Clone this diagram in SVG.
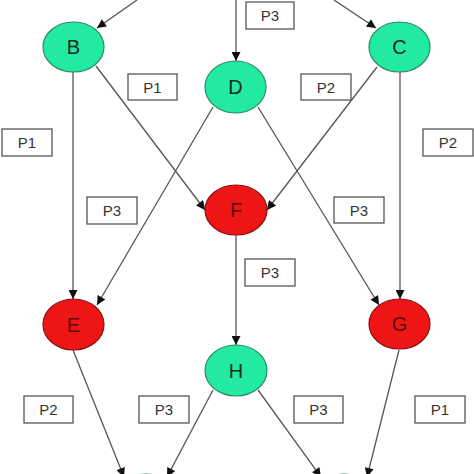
<svg xmlns="http://www.w3.org/2000/svg" width="474" height="474" viewBox="0 0 474 474">
<style>
.g{fill:#22eaa0;stroke:#2a8a66;stroke-width:1.2}
.r{fill:#ee1515;stroke:#8a1010;stroke-width:1.2}
.nt{font-family:"Liberation Sans",Arial,sans-serif;font-size:20px;text-anchor:middle;dominant-baseline:central}
.gt{fill:#1a2a22}
.rt{fill:#5a0a0a}
.e{stroke:#555;stroke-width:1.3;fill:none;marker-end:url(#a)}
.lb rect{fill:#fff;stroke:#555;stroke-width:1.3}
.lb text{font-family:"Liberation Sans",Arial,sans-serif;font-size:15px;fill:#333;text-anchor:middle;dominant-baseline:central}
</style>
<defs>
<marker id="a" viewBox="0 0 10 10" refX="10" refY="5" markerWidth="10" markerHeight="9" markerUnits="userSpaceOnUse" orient="auto">
<path d="M0,0 L10,5 L0,10 z" fill="#111"/>
</marker>
</defs>
<rect width="474" height="474" fill="#fff"/>
<g id="connectors">
<line class="e" x1="137" y1="0" x2="97" y2="28"/>
<line class="e" x1="236" y1="0" x2="236" y2="61"/>
<line class="e" x1="334" y1="0" x2="376" y2="28"/>
<line class="e" x1="73" y1="72" x2="73" y2="299"/>
<line class="e" x1="96" y1="66" x2="205" y2="210"/>
<line class="e" x1="213" y1="107" x2="97" y2="305"/>
<line class="e" x1="258" y1="107" x2="379" y2="305"/>
<line class="e" x1="377" y1="67" x2="267" y2="210"/>
<line class="e" x1="400" y1="72" x2="400" y2="299"/>
<line class="e" x1="236" y1="235" x2="236" y2="345"/>
<line class="e" x1="73" y1="350" x2="124" y2="477"/>
<line class="e" x1="213" y1="390" x2="167" y2="477"/>
<line class="e" x1="258" y1="390" x2="321" y2="477"/>
<line class="e" x1="399" y1="350" x2="367" y2="477"/>
</g>
<g id="node-B"><ellipse class="g" cx="73.5" cy="47" rx="30.5" ry="25"/><text class="nt gt" x="73.5" y="47">B</text></g>
<g id="node-D"><ellipse class="g" cx="235.5" cy="87" rx="30.5" ry="26"/><text class="nt gt" x="235.5" y="87">D</text></g>
<g id="node-C"><ellipse class="g" cx="399.5" cy="47" rx="30.5" ry="25"/><text class="nt gt" x="399.5" y="47">C</text></g>
<g id="node-F"><ellipse class="r" cx="236" cy="210" rx="31" ry="25"/><text class="nt rt" x="236" y="210">F</text></g>
<g id="node-E"><ellipse class="r" cx="73.5" cy="324.5" rx="30.5" ry="25.5"/><text class="nt rt" x="73.5" y="324.5">E</text></g>
<g id="node-G"><ellipse class="r" cx="399.5" cy="324" rx="30.5" ry="25"/><text class="nt rt" x="399.5" y="324">G</text></g>
<g id="node-H"><ellipse class="g" cx="236" cy="370.5" rx="31" ry="25.5"/><text class="nt gt" x="236" y="370.5">H</text></g>
<g id="node-bl"><ellipse class="g" cx="146" cy="499" rx="30" ry="25"/></g>
<g id="node-br"><ellipse class="g" cx="344" cy="499" rx="30" ry="25"/></g>
<g id="labels" class="lb">
<g id="lb1"><rect x="246" y="2" width="48" height="27"/><text x="270" y="15.5">P3</text></g>
<g id="lb2"><rect x="128" y="74" width="49" height="26"/><text x="152.5" y="87">P1</text></g>
<g id="lb3"><rect x="2" y="129" width="50" height="27"/><text x="27" y="142.5">P1</text></g>
<g id="lb4"><rect x="87" y="197" width="50" height="27"/><text x="112" y="210.5">P3</text></g>
<g id="lb5"><rect x="301" y="74" width="50" height="26"/><text x="326" y="87">P2</text></g>
<g id="lb6"><rect x="423" y="129" width="50" height="27"/><text x="448" y="142.5">P2</text></g>
<g id="lb7"><rect x="334" y="197" width="50" height="26"/><text x="359" y="210">P3</text></g>
<g id="lb8"><rect x="245" y="259" width="50" height="27"/><text x="270" y="272.5">P3</text></g>
<g id="lb9"><rect x="24" y="396" width="49" height="27"/><text x="48.5" y="409.5">P2</text></g>
<g id="lb10"><rect x="139" y="396" width="50" height="27"/><text x="164" y="409.5">P3</text></g>
<g id="lb11"><rect x="294" y="396" width="49" height="27"/><text x="318.5" y="409.5">P3</text></g>
<g id="lb12"><rect x="415" y="396" width="50" height="27"/><text x="440" y="409.5">P1</text></g>
</g>
</svg>
